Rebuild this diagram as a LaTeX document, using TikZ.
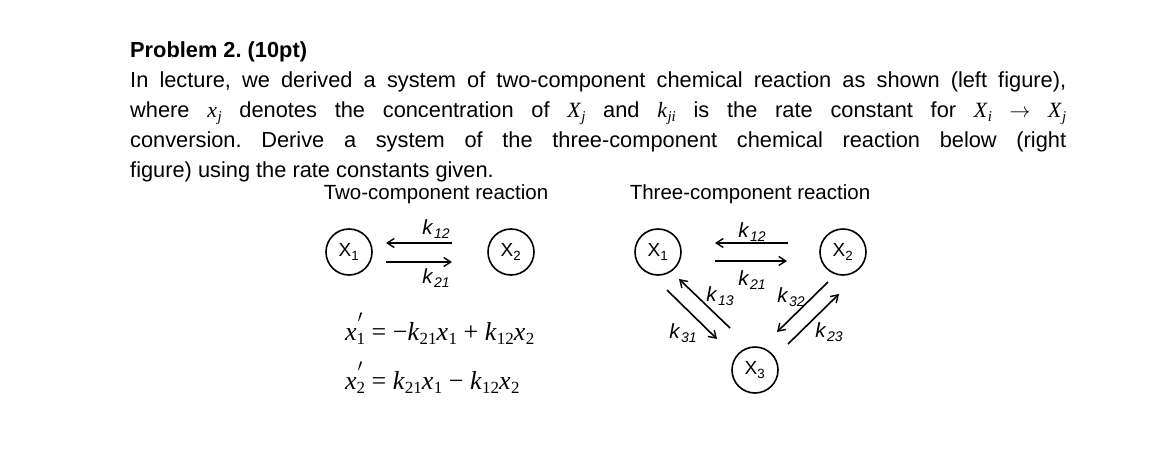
\documentclass[tikz,border=0pt]{standalone}
\usepackage{fontspec}
\setmainfont{Liberation Sans}
\newfontfamily\tms{Liberation Serif}
\usetikzlibrary{arrows.meta}
\newcommand{\kk}[1]{\textit{k}\kern0.5pt\raisebox{-0.35ex}{\fontsize{14}{14}\selectfont\textit{#1}}}
\newcommand{\vv}[2]{{\tms\itshape #1\kern0.5pt\raisebox{-0.35ex}{\fontsize{15}{15}\selectfont #2}}}
\newcommand{\ev}[2]{{\tms\itshape #1\kern0.5pt\raisebox{-0.35ex}{\fontsize{17}{17}\selectfont\upshape #2}}}
\newcommand{\pv}[1]{{\tms\itshape x\rlap{\raisebox{0.75ex}{\kern1pt$'$}}\raisebox{-0.35ex}{\fontsize{17}{17}\selectfont\upshape #1}}}
\begin{document}
\begin{tikzpicture}[x=1pt,y=-1pt,
  sp/.style={draw,circle,line width=1.6pt,minimum size=46pt,inner sep=0pt,font=\fontsize{19}{19}\selectfont},
  ar/.style={line width=1.6pt,-{Straight Barb[length=7pt,width=9pt,line width=1.4pt]}},
  kl/.style={font=\fontsize{20.5}{20.5}\selectfont,inner sep=0pt},
  ttl/.style={font=\fontsize{20.5}{20.5}\selectfont,inner sep=0pt},
  eq/.style={anchor=west,inner sep=0pt,font=\fontsize{26}{26}\tms\selectfont}]
\useasboundingbox (0,0) rectangle (1149,458);
\node[anchor=north west,inner sep=0pt,text width=936pt,align=justify,font=\fontsize{21.8}{30}\selectfont\frenchspacing] (txt) at (130,42)
{\textbf{Problem 2. (10pt)}\\
In lecture, we derived a system of two-component chemical reaction as shown (left figure),\linebreak where \vv{x}{j} denotes the concentration of \vv{X}{j} and \vv{k}{ji} is the rate constant for \vv{X}{i}~$\rightarrow$~\vv{X}{j}\linebreak conversion. Derive a system of the three-component chemical reaction below (right\linebreak figure) using the rate constants given.};
% left
\node[ttl] (t2) at (436,194) {Two-component reaction};
\node[sp] (a1) at (349,252) {X\textsubscript{1}};
\node[sp] (a2) at (511,252) {X\textsubscript{2}};
\coordinate (p1) at (452,243); \coordinate (p2) at (386,243);
\coordinate (p3) at (386,262); \coordinate (p4) at (452,262);
\draw[ar] (p1) -- (p2);
\draw[ar] (p3) -- (p4);
\node[kl] (l12) at (436,229) {\kk{12}};
\node[kl] (l21) at (436,278) {\kk{21}};
\node[eq] (e1) at (345,329) {\pv{1} = −\ev{k}{21}\ev{x}{1} + \ev{k}{12}\ev{x}{2}};
\node[eq] (e2) at (345,378) {\pv{2} = \ev{k}{21}\ev{x}{1} − \ev{k}{12}\ev{x}{2}};
% right
\node[ttl] (t3) at (750,194) {Three-component reaction};
\node[sp] (b1) at (658,252) {X\textsubscript{1}};
\node[sp] (b2) at (843,252) {X\textsubscript{2}};
\node[sp] (b3) at (755,370) {X\textsubscript{3}};
\coordinate (q1) at (788,243); \coordinate (q2) at (715,243);
\coordinate (q3) at (715,261); \coordinate (q4) at (787,261);
\draw[ar] (q1) -- (q2);
\draw[ar] (q3) -- (q4);
\coordinate (r1) at (667,290); \coordinate (r2) at (717,339);
\coordinate (r3) at (730,328); \coordinate (r4) at (679,279);
\draw[ar] (r1) -- (r2);
\draw[ar] (r3) -- (r4);
\coordinate (s1) at (828,282); \coordinate (s2) at (777,332);
\coordinate (s3) at (788,344); \coordinate (s4) at (839,294);
\draw[ar] (s1) -- (s2);
\draw[ar] (s3) -- (s4);
\node[kl] (m12) at (752,232) {\kk{12}};
\node[kl] (m21) at (752,280) {\kk{21}};
\node[kl] (m13) at (720,296) {\kk{13}};
\node[kl] (m31) at (683,333) {\kk{31}};
\node[kl] (m32) at (791,297) {\kk{32}};
\node[kl] (m23) at (829,332) {\kk{23}};
\end{tikzpicture}
\end{document}
